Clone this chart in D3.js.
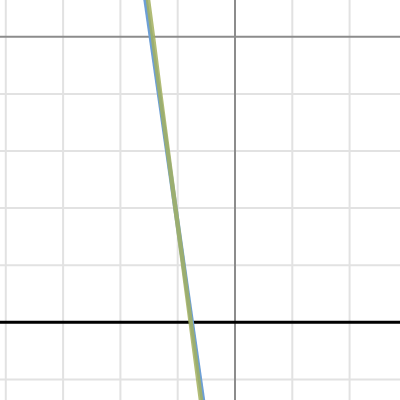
<!DOCTYPE html>
<html><head><meta charset="utf-8">
<script src="https://cdn.jsdelivr.net/npm/d3@7"></script>
<style>html,body{margin:0;padding:0;background:#fff;overflow:hidden}</style>
</head><body>
<svg id="c" width="400" height="400"></svg>
<script>
const xTicks = [-4, -3, -2, -1, 0, 1, 2, 3];
const yTicks = [1, 0, -1, -2, -3, -4, -5, -6, -7];
const blueX = [-1.611, -0.469];
const blueY = [1, -7];
const oliveY = [1, 0, -1, -2, -3, -4, -5, -6, -7];
const oliveX = [-1.565, -1.432, -1.305, -1.172, -1.040, -0.905, -0.774, -0.642, -0.512];
const horizY = -5;

const svg = d3.select("#c");
const x = d3.scaleLinear().domain([-4, 2]).range([5.8, 349.6]);
const y = d3.scaleLinear().domain([0, -6]).range([36.8, 379.4]);

svg.append("rect").attr("width", 400).attr("height", 400).attr("fill", "#fff");

const g = svg.append("g");
g.selectAll("line.vx").data(xTicks.filter(d => d !== 0)).enter().append("line")
  .attr("x1", d => x(d)).attr("x2", d => x(d)).attr("y1", 0).attr("y2", 400)
  .attr("stroke", "#e2e2e2").attr("stroke-width", 2);
g.selectAll("line.hy").data(yTicks.filter(d => d !== 0)).enter().append("line")
  .attr("y1", d => y(d)).attr("y2", d => y(d)).attr("x1", 0).attr("x2", 400)
  .attr("stroke", "#e2e2e2").attr("stroke-width", 2);
// axes
g.append("line").attr("x1", x(0)).attr("x2", x(0)).attr("y1", 0).attr("y2", 400)
  .attr("stroke", "#8c8c8c").attr("stroke-width", 2);
g.append("line").attr("y1", y(0)).attr("y2", y(0)).attr("x1", 0).attr("x2", 400)
  .attr("stroke", "#8c8c8c").attr("stroke-width", 2);

// black horizontal line
svg.append("line").attr("x1", 0).attr("x2", 400).attr("y1", y(horizY)).attr("y2", y(horizY))
  .attr("stroke", "#000").attr("stroke-width", 3);

const line = d3.line().x(d => x(d[0])).y(d => y(d[1])).curve(d3.curveCatmullRom);
svg.append("path").datum(blueX.map((v, i) => [v, blueY[i]]))
  .attr("d", line).attr("fill", "none").attr("stroke", "#6d9fd6").attr("stroke-width", 4.5);
svg.append("path").datum(oliveX.map((v, i) => [v, oliveY[i]]))
  .attr("d", line).attr("fill", "none").attr("stroke", "#a3b05e").attr("stroke-width", 4.5)
  .attr("stroke-opacity", 0.85);
</script>
</body></html>
